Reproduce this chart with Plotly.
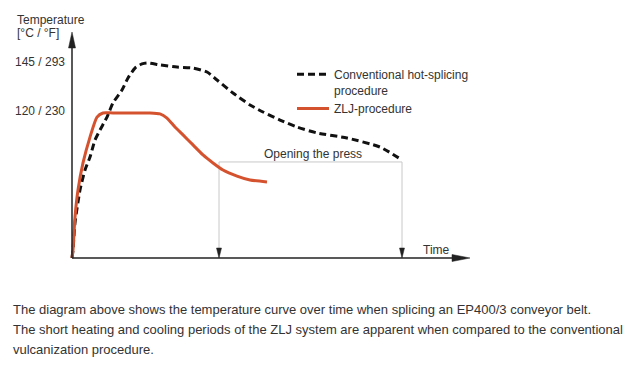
import plotly.graph_objects as go

# ---------------- data ----------------
conv_time = [0, 1, 3, 8, 13, 18, 23, 28, 35, 41, 50, 56, 63, 70, 75, 88, 105, 121, 135, 145,
             161, 178, 191, 208, 225, 245, 275, 308, 330]
conv_temp = [45, 49.1, 62.9, 79.7, 89.9, 96.5, 105.2, 110.3, 116.9, 124.1, 130.7, 136.8, 141.9,
             144.0, 144.5, 143.5, 142.4, 141.9, 139.9, 135.8, 129.2, 123.1, 119.5, 115.4, 111.8,
             108.8, 106.2, 101.6, 95.0]

zlj_time = [0, 1, 3, 6, 11, 18, 25, 31, 41, 60, 78, 88, 95, 103, 111, 121, 131, 141,
            151, 165, 178, 195]
zlj_temp = [45, 49.1, 65.9, 79.7, 93.5, 106.7, 116.9, 119.0, 119.0, 119.0, 119.0, 118.5, 116.4,
            111.8, 107.8, 102.7, 97.6, 93.5, 89.9, 86.8, 84.8, 83.8]

open_times = [147, 330]
open_temp = 94

tick_vals = [120, 145]
tick_text = ["120 / 230", "145 / 293"]

series_names = ["Conventional hot-splicing<br>procedure", "ZLJ-procedure"]

caption = [
    "The diagram above shows the temperature curve over time when splicing an EP400/3 conveyor belt.",
    "The short heating and cooling periods of the ZLJ system are apparent when compared to the conventional",
    "vulcanization procedure.",
]

# ---------------- layout geometry ----------------
W, H = 642, 377
L, R, T, B = 66, 172, 32, 113
PW, PH = W - L - R, H - T - B
X_RANGE = [-6, 398]
Y_RANGE = [45 - 6 / 1.96, 45 + 226 / 1.96]


def px(xp):
    return (xp - L) / PW


def py(yp):
    return (H - B - yp) / PH


FONT = "Liberation Sans, Arial, Helvetica, sans-serif"
TXT = "#333333"
AX = "#222222"
RED = "#d5522f"

fig = go.Figure()
fig.add_trace(go.Scatter(x=conv_time, y=conv_temp, mode="lines", name=series_names[0],
                         line=dict(color="#111111", width=3, dash="7px,4px", shape="spline",
                                   smoothing=0.6)))
fig.add_trace(go.Scatter(x=zlj_time, y=zlj_temp, mode="lines", name=series_names[1],
                         line=dict(color=RED, width=3, shape="spline", smoothing=0.6)))

shapes = []
# "opening the press" guides
shapes.append(dict(type="line", xref="x", yref="y", x0=open_times[0], x1=open_times[1],
                   y0=open_temp, y1=open_temp, line=dict(color="#c8c8c8", width=1), layer="below"))
for t in open_times:
    shapes.append(dict(type="line", xref="x", yref="y", x0=t, x1=t, y0=45, y1=open_temp,
                       line=dict(color="#c8c8c8", width=1), layer="below"))
    shapes.append(dict(type="path", xref="x", yref="y", xsizemode="pixel", ysizemode="pixel",
                       xanchor=t, yanchor=45, path="M0,0 L-2.5,10 L2.5,10 Z",
                       fillcolor=AX, line=dict(color=AX, width=0.5)))
# axes with arrows
shapes.append(dict(type="line", xref="x", yref="y", x0=0, x1=0, y0=45, y1=Y_RANGE[1] - 10 / 1.96,
                   line=dict(color=AX, width=1.5)))
shapes.append(dict(type="path", xref="x", yref="y", xsizemode="pixel", ysizemode="pixel",
                   xanchor=0, yanchor=Y_RANGE[1], path="M0,0 L-3.5,-16 L3.5,-16 Z",
                   fillcolor=AX, line=dict(color=AX, width=0.5)))
shapes.append(dict(type="line", xref="x", yref="y", x0=0, x1=X_RANGE[1] - 12, y0=45, y1=45,
                   line=dict(color=AX, width=1.5)))
shapes.append(dict(type="path", xref="x", yref="y", xsizemode="pixel", ysizemode="pixel",
                   xanchor=X_RANGE[1], yanchor=45, path="M0,0 L-18,3.5 L-18,-3.5 Z",
                   fillcolor=AX, line=dict(color=AX, width=0.5)))

annotations = [
    dict(text="Temperature", xref="paper", yref="paper", x=px(15), y=py(20), xanchor="left",
         yanchor="middle", showarrow=False, font=dict(size=12, color=TXT, family=FONT)),
    dict(text="[°C / °F]", xref="paper", yref="paper", x=px(15), y=py(33), xanchor="left",
         yanchor="middle", showarrow=False, font=dict(size=12, color=TXT, family=FONT)),
    dict(text="Time", xref="x", yref="paper", x=364, y=py(250), xanchor="center",
         yanchor="middle", showarrow=False, font=dict(size=12, color=TXT, family=FONT)),
    dict(text="Opening the press", xref="x", yref="y", x=sum(open_times) / 2 + 2, y=open_temp,
         yshift=8, xanchor="center", yanchor="middle", showarrow=False,
         font=dict(size=12, color=TXT, family=FONT)),
]
for i, line in enumerate(caption):
    annotations.append(dict(text=line, xref="paper", yref="paper", x=px(11), y=py(309 + 20 * i),
                            xanchor="left", yanchor="middle", showarrow=False,
                            font=dict(size=13, color=TXT, family=FONT)))

fig.update_layout(
    width=W, height=H, margin=dict(l=L, r=R, t=T, b=B),
    paper_bgcolor="white", plot_bgcolor="white",
    font=dict(family=FONT, size=12, color=TXT),
    xaxis=dict(range=X_RANGE, showgrid=False, zeroline=False, showline=False,
               showticklabels=False, ticks="", fixedrange=True),
    yaxis=dict(range=Y_RANGE, showgrid=False, zeroline=False, showline=False,
               tickvals=tick_vals, ticktext=tick_text, ticks="", ticklabelstandoff=0,
               tickfont=dict(size=12, color=TXT, family=FONT), fixedrange=True),
    showlegend=True,
    legend=dict(x=px(292), y=py(60), xanchor="left", yanchor="top", valign="top",
                bgcolor="rgba(0,0,0,0)", font=dict(size=12, color=TXT, family=FONT),
                tracegroupgap=0, itemwidth=32),
    shapes=shapes, annotations=annotations,
)

fig.write_html("out.html", config={"displayModeBar": False},
               post_script="document.body.style.margin='0px';document.body.style.overflow='hidden';")
